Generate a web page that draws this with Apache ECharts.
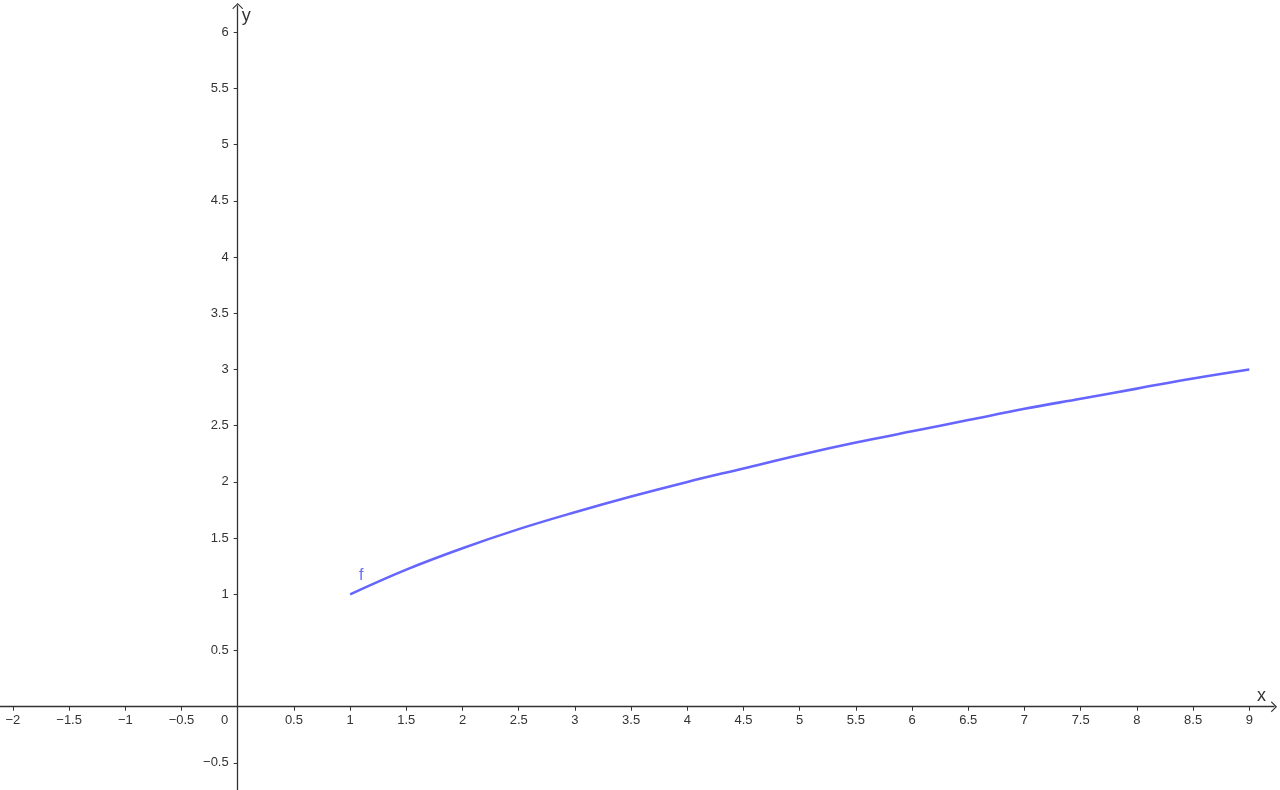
<!DOCTYPE html>
<html>
<head>
<meta charset="utf-8">
<script src="https://cdn.jsdelivr.net/npm/echarts@6/dist/echarts.min.js"></script>
<style>html,body{margin:0;padding:0;background:#fff}#c{width:1280px;height:790px}</style>
</head>
<body>
<div id="c"></div>
<script>
// Data
var xTicks = [-2,-1.5,-1,-0.5,0,0.5,1,1.5,2,2.5,3,3.5,4,4.5,5,5.5,6,6.5,7,7.5,8,8.5,9];
var yTicks = [-0.5,0.5,1,1.5,2,2.5,3,3.5,4,4.5,5,5.5,6];
var curveX = [1,1.5,2,2.5,3,3.5,4,4.5,5,5.5,6,6.5,7,7.5,8,8.5,9];
var curveY = [1,1.22,1.41,1.58,1.73,1.87,2.0,2.12,2.24,2.35,2.45,2.55,2.65,2.74,2.83,2.92,3.0];
var curveName = 'f';

function fmt(v){
  return String(v).replace('-', '\u2212');
}
var chevron = 'path://M0,10 L10,0 L20,10 L18.2,11.2 L10,3 L1.8,11.2 Z';
var axisColor = '#333';
var FONT = 'Liberation Sans, Arial, sans-serif';
var labelStyle = {color:'#333', fontSize:13, fontFamily:FONT};

var curve = curveX.map(function(x,i){return [x, curveY[i]];});

var chart = echarts.init(document.getElementById('c'));
chart.setOption({
  backgroundColor:'#fff',
  animation:false,
  grid:{left:0,right:6,top:6,bottom:0,containLabel:false,outerBoundsMode:'none'},
  xAxis:{
    type:'value', min:-2.115, max:9.22, position:'bottom', offset:-83.3,
    splitLine:{show:false},
    axisLine:{onZero:false, lineStyle:{color:axisColor,width:1.3}, symbol:['none',chevron], symbolSize:[11,9]},
    axisTick:{show:true, length:4, lineStyle:{color:axisColor}, customValues:xTicks.filter(function(v){return v!==0;})},
    axisLabel:Object.assign({margin:7, interval:0, customValues:xTicks,
      formatter:function(v){ return v===0 ? '{o|0}' : fmt(v); },
      rich:{o:{padding:[0,26,0,0], color:'#333', fontSize:13, fontFamily:FONT}}
    }, labelStyle),
    name:'x', nameLocation:'end', nameGap:-17,
    nameTextStyle:{color:'#333', fontSize:18, fontFamily:FONT, align:'left', verticalAlign:'bottom', padding:[0,0,2,0]}
  },
  yAxis:{
    type:'value', min:-0.741, max:6.234, position:'left', offset:-237.7,
    splitLine:{show:false},
    axisLine:{onZero:false, lineStyle:{color:axisColor,width:1.3}, symbol:['none',chevron], symbolSize:[11,9]},
    axisTick:{show:true, length:4, lineStyle:{color:axisColor}, customValues:yTicks},
    axisLabel:Object.assign({margin:9, interval:0, customValues:yTicks, formatter:function(v){return fmt(v);}}, labelStyle),
    name:'y', nameLocation:'end', nameGap:-1,
    nameTextStyle:{color:'#333', fontSize:18, fontFamily:FONT, align:'left', verticalAlign:'top', padding:[0,0,0,4]}
  },
  series:[
    {type:'line', data:curve, smooth:0.4, showSymbol:false, symbol:'none',
     lineStyle:{color:'#6666ff', width:2.6}, z:3},
    {type:'scatter', data:[curve[0]], symbolSize:0, silent:true,
     label:{show:true, formatter:curveName, position:'top', offset:[11,-6], color:'#4444ee', fontSize:16, fontFamily:FONT}}
  ]
});
</script>
</body>
</html>
